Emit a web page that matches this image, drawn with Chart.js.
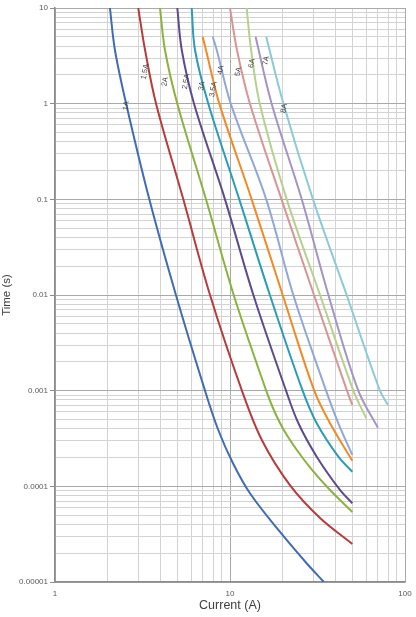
<!DOCTYPE html>
<html lang="en">
  <head>
    <meta charset="UTF-8" />
    <title>Fuse curves</title>
    <script src="https://cdn.jsdelivr.net/npm/chart.js"></script>
    <style>
      html, body { margin: 0; padding: 0; background: #fff; }
      canvas { display: block; }
    </style>
  </head>
  <body>
    <canvas id="fuseChart" width="416" height="617"></canvas>
    <script>
      // fuse ratings and their time/current points
      const ratings = ["1A", "1.5A", "2A", "2.5A", "3A", "3.5A", "4A", "5A", "6A", "7A", "8A"];

      const current1A = [2.06, 2.2, 2.55, 3.46, 4.91, 7.2, 8.57, 10.4, 13.0, 18.9, 27.4, 34.4];
      const time1A = [10, 3.64, 1, 0.1, 0.01, 0.001, 0.000388, 0.000174, 0.0000846, 0.000035, 0.0000157, 0.00001];

      const current1_5A = [2.99, 3.27, 3.78, 5.41, 7.69, 11.7, 15.2, 22.0, 32.7, 50];
      const time1_5A = [10, 3.64, 1, 0.1, 0.01, 0.001, 0.000305, 0.000103, 0.0000467, 0.000025];

      const current2A = [3.98, 4.25, 5.0, 7.29, 10.5, 16.1, 17.8, 20.3, 24.1, 29.5, 37.3, 50];
      const time2A = [10, 3.64, 1, 0.1, 0.01, 0.001, 0.000628, 0.000388, 0.00024, 0.000148, 0.0000916, 0.0000539];

      const current2_5A = [5.0, 5.3, 6.23, 9.36, 13.6, 20.9, 24.6, 31.3, 42.5, 50];
      const time2_5A = [10, 3.64, 1, 0.1, 0.01, 0.001, 0.000456, 0.000204, 0.0000916, 0.0000665];

      const current3A = [6.04, 6.31, 7.52, 11.3, 16.9, 26.0, 31.3, 41.6, 50];
      const time3A = [10, 3.64, 1, 0.1, 0.01, 0.001, 0.000456, 0.000204, 0.000142];

      const current3_5A = [6.98, 7.29, 8.69, 13.3, 20.0, 30.3, 37.3, 50];
      const time3_5A = [5, 3.64, 1, 0.1, 0.01, 0.001, 0.000456, 0.000185];

      const current4A = [7.97, 8.4, 10.1, 16.1, 23.0, 35.4, 41.6, 50];
      const time4A = [5, 3.64, 1, 0.1, 0.01, 0.001, 0.000456, 0.000213];

      const current5A = [10, 10.96, 13.0, 19.7, 30.2, 46.6, 50];
      const time5A = [10, 3.64, 1, 0.1, 0.01, 0.001, 0.000708];

      const current6A = [12.45, 13.2, 14.8, 21.1, 32.7, 50.7, 60];
      const time6A = [10, 3.64, 1, 0.1, 0.01, 0.001, 0.000514];

      const current7A = [14.0, 17.3, 25.7, 36.5, 54.1, 70];
      const time7A = [5, 1, 0.1, 0.01, 0.001, 0.00041];

      const current8A = [16.1, 20.2, 29.8, 46.4, 71.9, 80];
      const time8A = [5, 1, 0.1, 0.01, 0.001, 0.000708];

      // where each rating label sits on its curve
      const labelCurrent = [2.55, 3.27, 4.25, 5.61, 6.89, 8.03, 8.85, 11.15, 13.3, 16.06, 20.35];
      const labelTime = [0.95, 2.16, 1.7, 1.7, 1.53, 1.41, 2.25, 2.16, 2.64, 2.81, 0.895];

      // axis ticks
      const currentTicks = [1, 10, 100];
      const currentTickLabels = ["1", "10", "100"];
      const timeTicks = [0.00001, 0.0001, 0.001, 0.01, 0.1, 1, 10];
      const timeTickLabels = ["0.00001", "0.0001", "0.001", "0.01", "0.1", "1", "10"];

      const colors = [
        "#3f6cb3", "#b83b3b", "#8cb23e", "#5e4a8f", "#2a9cb8", "#f08a24",
        "#8fa8d8", "#d99494", "#b5d18c", "#a494c4", "#8ccadb",
      ];

      const currents = [current1A, current1_5A, current2A, current2_5A, current3A, current3_5A,
        current4A, current5A, current6A, current7A, current8A];
      const times = [time1A, time1_5A, time2A, time2_5A, time3A, time3_5A,
        time4A, time5A, time6A, time7A, time8A];

      const datasets = ratings.map((name, i) => ({
        label: name,
        data: currents[i].map((c, j) => ({ x: c, y: times[i][j] })),
        borderColor: colors[i],
        borderWidth: 2,
        showLine: true,
        pointRadius: 0,
        tension: 0.35,
      }));

      // log grid: every 1..9 step inside each decade between the major ticks
      function decadeGrid(majors) {
        const out = [];
        for (let i = 0; i < majors.length - 1; i++) {
          for (let m = 1; m < 10; m++) out.push({ value: majors[i] * m });
        }
        out.push({ value: majors[majors.length - 1] });
        return out;
      }

      function majorIndex(majors, v) {
        return majors.findIndex(m => Math.abs(Math.log10(m) - Math.log10(v)) < 1e-6);
      }

      const curveLabels = {
        id: "curveLabels",
        afterDatasetsDraw(chart) {
          const ctx = chart.ctx;
          const xs = chart.scales.x;
          const ys = chart.scales.y;
          ctx.save();
          ctx.font = "7.5px 'Liberation Sans', Arial, sans-serif";
          ctx.fillStyle = "#404040";
          ctx.textAlign = "center";
          ctx.textBaseline = "middle";
          ratings.forEach((name, i) => {
            const px = xs.getPixelForValue(labelCurrent[i]);
            const py = ys.getPixelForValue(labelTime[i]);
            ctx.save();
            ctx.translate(px, py);
            ctx.rotate(-80 * Math.PI / 180);
            ctx.fillText(name, 0, 0);
            ctx.restore();
          });
          ctx.restore();
        },
      };

      const tickFont = { family: "'Liberation Sans', Arial, sans-serif", size: 8 };

      new Chart(document.getElementById("fuseChart"), {
        type: "scatter",
        data: { datasets },
        plugins: [curveLabels],
        options: {
          responsive: false,
          animation: false,
          layout: { padding: { top: 8, right: 11, left: 0, bottom: 0 } },
          plugins: { legend: { display: false }, tooltip: { enabled: false } },
          scales: {
            x: {
              type: "logarithmic",
              min: 1,
              max: 100,
              afterBuildTicks: s => { s.ticks = decadeGrid(currentTicks); },
              afterFit: s => { s.height = 35; },
              ticks: {
                autoSkip: false,
                maxRotation: 0,
                padding: 2,
                color: "#595959",
                font: tickFont,
                callback: v => {
                  const k = majorIndex(currentTicks, v);
                  return k >= 0 ? currentTickLabels[k] : "";
                },
              },
              grid: {
                color: c => majorIndex(currentTicks, c.tick.value) >= 0 ? "#a9a9a9" : "#d3d3d3",
                tickColor: "rgba(0,0,0,0)",
                tickLength: 5,
              },
              border: { color: "#8c8c8c", width: 1.5 },
              title: {
                display: true,
                text: "Current (A)",
                color: "#404040",
                padding: { top: 0, bottom: 4 },
                font: { family: "'Liberation Sans', Arial, sans-serif", size: 12.5 },
              },
            },
            y: {
              type: "logarithmic",
              min: 0.00001,
              max: 10,
              afterBuildTicks: s => { s.ticks = decadeGrid(timeTicks); },
              afterFit: s => { s.width = 55; },
              ticks: {
                autoSkip: false,
                padding: 2,
                color: "#595959",
                font: tickFont,
                callback: v => {
                  const k = majorIndex(timeTicks, v);
                  return k >= 0 ? timeTickLabels[k] : "";
                },
              },
              grid: {
                color: c => majorIndex(timeTicks, c.tick.value) >= 0 ? "#a9a9a9" : "#d3d3d3",
                tickColor: c => majorIndex(timeTicks, c.tick.value) >= 0 ? "#8c8c8c" : "rgba(0,0,0,0)",
                tickLength: 5,
              },
              border: { color: "#8c8c8c", width: 1.5 },
              title: {
                display: true,
                text: "Time (s)",
                color: "#404040",
                padding: 0,
                font: { family: "'Liberation Sans', Arial, sans-serif", size: 11.5 },
              },
            },
          },
        },
      });
    </script>
  </body>
</html>
